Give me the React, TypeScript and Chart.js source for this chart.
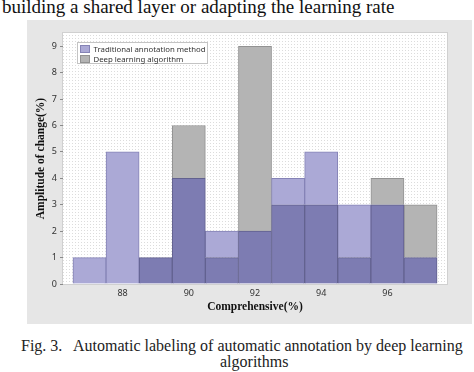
import React, { useEffect, useRef } from "react";
import { Chart, registerables } from "chart.js";

Chart.register(...registerables);

// ---- data ----
const binCenters = [87, 88, 89, 90, 91, 92, 93, 94, 95, 96, 97];
const traditional = [1, 5, 1, 4, 2, 2, 4, 5, 3, 3, 1];
const deepLearning = [0, 0, 1, 6, 1, 9, 3, 3, 1, 4, 3];
const xTickValues = [88, 90, 92, 94, 96];
const yTickValues = [0, 1, 2, 3, 4, 5, 6, 7, 8, 9];
const seriesLabels = ["Traditional annotation method", "Deep learning algorithm"];
const xTitle = "Comprehensive(%)";
const yTitle = "Amplitude of change(%)";
const topText = "building a shared layer or adapting the learning rate";
const figLabel = "Fig. 3.";
const captionLine1 = "Automatic labeling of automatic annotation by deep learning";
const captionLine2 = "algorithms";

// ---- styles ----
const OVERLAP_FILL = "#7d7cb2";
const OVERLAP_BORDER = "#62618f";
const TRAD_FILL = "#aba9d6";
const TRAD_BORDER = "#8583b6";
const DEEP_FILL = "#b4b4b4";
const DEEP_BORDER = "#929292";
const PANEL_BG = "#e6e6e6";
const SANS = "'Noto Sans', 'Liberation Sans', sans-serif";
const SERIF = "'Liberation Serif', 'DejaVu Serif', serif";

const nz = (v: number) => (v > 0 ? v : null);

const plotBackground = {
  id: "plotBackground",
  beforeDraw(chart: any) {
    const { ctx, chartArea: a } = chart;
    if (!a) return;
    ctx.save();
    ctx.fillStyle = "#ffffff";
    ctx.fillRect(a.left, a.top, a.right - a.left, a.bottom - a.top);
    const tile = document.createElement("canvas");
    tile.width = 3;
    tile.height = 3;
    const g = tile.getContext("2d")!;
    g.fillStyle = "#dcdcdc";
    g.fillRect(0, 0, 1, 1);
    const pat = ctx.createPattern(tile, "repeat");
    if (pat) {
      ctx.fillStyle = pat;
      ctx.fillRect(a.left, a.top, a.right - a.left, a.bottom - a.top);
    }
    ctx.strokeStyle = "#d0d0d0";
    ctx.lineWidth = 1;
    ctx.strokeRect(a.left - 0.5, a.top - 0.5, a.right - a.left + 1, a.bottom - a.top + 1);
    ctx.restore();
  },
};

const insideLegend = {
  id: "insideLegend",
  afterDatasetsDraw(chart: any) {
    const { ctx, chartArea: a } = chart;
    if (!a) return;
    const items = chart.data.datasets.filter((d: any) => d.showInLegend);
    const x = Math.round(a.left + 14) + 0.5;
    const y = Math.round(a.top + 9) + 0.5;
    const w = 130;
    const h = 21;
    ctx.save();
    ctx.fillStyle = "#ffffff";
    ctx.fillRect(x, y, w, h);
    ctx.strokeStyle = "#c4c4c4";
    ctx.lineWidth = 1;
    ctx.strokeRect(x, y, w, h);
    ctx.font = `7.8px ${SANS}`;
    ctx.textBaseline = "middle";
    ctx.textAlign = "left";
    items.forEach((d: any, i: number) => {
      const sy = y + 3 + i * 10;
      ctx.fillStyle = d.backgroundColor;
      ctx.fillRect(x + 3, sy, 9, 7);
      ctx.strokeStyle = d.borderColor;
      ctx.strokeRect(x + 3, sy, 9, 7);
      ctx.fillStyle = "#333333";
      ctx.fillText(d.label, x + 16, sy + 4);
    });
    ctx.restore();
  },
};

export default function App() {
  const canvasRef = useRef<HTMLCanvasElement | null>(null);

  useEffect(() => {
    const canvas = canvasRef.current;
    if (!canvas) return;
    const overlap = binCenters.map((x, i) => ({ x, y: nz(Math.min(traditional[i], deepLearning[i])) }));
    const tradExtra = binCenters.map((x, i) => ({ x, y: nz(traditional[i] - deepLearning[i]) }));
    const deepExtra = binCenters.map((x, i) => ({ x, y: nz(deepLearning[i] - traditional[i]) }));

    const chart = new Chart(canvas, {
      type: "bar",
      data: {
        datasets: [
          {
            label: "Overlap",
            data: overlap as any,
            backgroundColor: OVERLAP_FILL,
            borderColor: OVERLAP_BORDER,
            borderWidth: 1,
            barPercentage: 1,
            categoryPercentage: 1,
            showInLegend: false,
          } as any,
          {
            label: seriesLabels[0],
            data: tradExtra as any,
            backgroundColor: TRAD_FILL,
            borderColor: TRAD_BORDER,
            borderWidth: 1,
            barPercentage: 1,
            categoryPercentage: 1,
            showInLegend: true,
          } as any,
          {
            label: seriesLabels[1],
            data: deepExtra as any,
            backgroundColor: DEEP_FILL,
            borderColor: DEEP_BORDER,
            borderWidth: 1,
            barPercentage: 1,
            categoryPercentage: 1,
            showInLegend: true,
          } as any,
        ],
      },
      options: {
        responsive: false,
        animation: false,
        events: [],
        layout: { padding: { left: 0, top: 13, right: 25, bottom: 0 } },
        plugins: {
          legend: { display: false },
          tooltip: { enabled: false },
        },
        scales: {
          x: {
            type: "linear",
            min: 86.2,
            max: 97.8,
            offset: false,
            stacked: true,
            grid: {
              offset: false,
              display: true,
              drawOnChartArea: false,
              drawTicks: true,
              tickLength: 3,
              color: "rgba(0,0,0,0)",
            },
            border: { display: false },
            ticks: {
              color: "#333333",
              font: { family: SANS, size: 9 },
              padding: 1,
              maxRotation: 0,
              autoSkip: false,
            },
            afterBuildTicks: (axis: any) => {
              axis.ticks = xTickValues.map((v) => ({ value: v }));
            },
            afterFit: (axis: any) => {
              axis.height = 40;
            },
            title: {
              display: true,
              text: xTitle,
              color: "#111111",
              font: { family: SERIF, size: 11.5, weight: "bold" },
              padding: { top: 0, bottom: 10 },
            },
          } as any,
          y: {
            type: "linear",
            min: 0,
            max: 9.5,
            stacked: true,
            grid: {
              display: true,
              drawOnChartArea: false,
              drawTicks: true,
              tickLength: 3,
              color: "#8a8a8a",
            },
            border: { display: false },
            ticks: {
              color: "#333333",
              font: { family: SANS, size: 9 },
              padding: 3,
              autoSkip: false,
            },
            afterBuildTicks: (axis: any) => {
              axis.ticks = yTickValues.map((v) => ({ value: v }));
            },
            afterFit: (axis: any) => {
              axis.width = 36;
            },
            title: {
              display: true,
              text: yTitle,
              color: "#111111",
              font: { family: SERIF, size: 11.5, weight: "bold" },
              padding: { top: 7, bottom: 0 },
            },
          } as any,
        },
      },
      plugins: [plotBackground, insideLegend],
    });
    return () => chart.destroy();
  }, []);

  const serif = "'Liberation Serif', 'Times New Roman', serif";
  const captionStyle: React.CSSProperties = {
    position: "absolute",
    fontFamily: serif,
    fontSize: 16,
    lineHeight: "16px",
    color: "#222",
    whiteSpace: "nowrap",
  };
  return (
    <div
      style={{
        position: "fixed",
        left: 0,
        top: 0,
        width: 474,
        height: 372,
        overflow: "hidden",
        background: "#ffffff",
      }}
    >
      <div
        style={{
          position: "absolute",
          left: 2,
          top: -3,
          fontFamily: serif,
          fontSize: 19,
          lineHeight: "19px",
          color: "#111",
          whiteSpace: "nowrap",
        }}
      >
        {topText}
      </div>
      <div
        style={{
          position: "absolute",
          left: 27,
          top: 20,
          width: 445,
          height: 304,
          background: PANEL_BG,
        }}
      >
        <canvas ref={canvasRef} width={445} height={304} style={{ display: "block", width: 445, height: 304 }} />
      </div>
      <div style={{ ...captionStyle, left: 21, top: 338 }}>{figLabel}</div>
      <div style={{ ...captionStyle, left: 73, top: 338 }}>{captionLine1}</div>
      <div style={{ ...captionStyle, left: 220, top: 354 }}>{captionLine2}</div>
    </div>
  );
}
